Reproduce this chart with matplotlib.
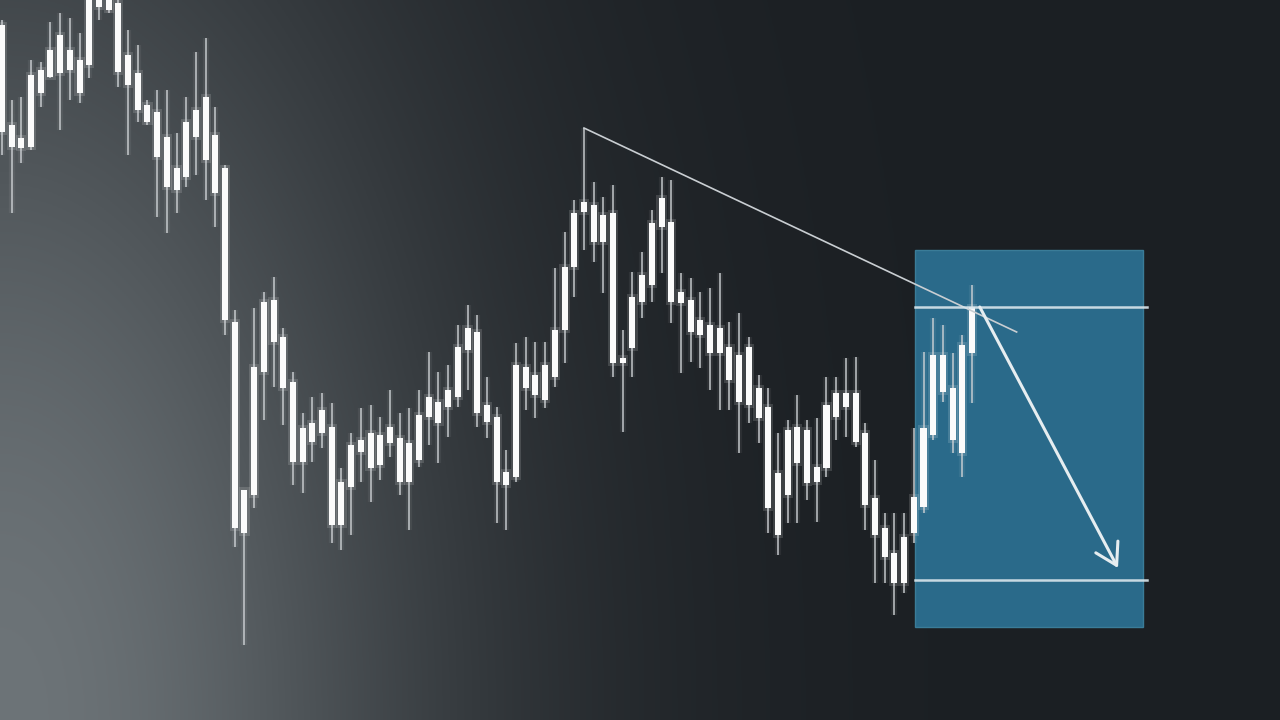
import matplotlib
matplotlib.use("Agg")
import matplotlib.pyplot as plt
import numpy as np
from matplotlib.patches import Rectangle

# candle prices (arbitrary units, higher = up)
opens = [695, 595, 582, 573, 627, 643, 647, 670, 660, 655, 713, 728, 717, 665, 647, 615, 608, 583, 552, 543,
         583, 623, 585, 552, 398, 230, 225, 348, 378, 383, 338, 292, 278, 287, 293, 238, 233, 268, 287, 255,
         277, 282, 277, 260, 303, 318, 313, 323, 370, 388, 315, 303, 248, 243, 332, 345, 320, 343, 390, 453,
         508, 515, 505, 507, 362, 372, 418, 435, 493, 498, 428, 420, 400, 395, 392, 373, 365, 315, 332, 313,
         247, 225, 257, 290, 253, 252, 303, 313, 327, 287, 222, 192, 167, 137, 187, 213, 285, 328, 332, 267,
         367]
highs = [700, 620, 623, 660, 658, 698, 707, 702, 687, 730, 735, 735, 725, 690, 675, 620, 630, 630, 587, 623,
         668, 682, 613, 555, 410, 230, 412, 428, 443, 392, 348, 307, 323, 327, 317, 252, 287, 312, 315, 303,
         330, 307, 312, 330, 368, 348, 355, 395, 415, 405, 343, 313, 270, 377, 383, 378, 378, 452, 488, 520,
         592, 538, 523, 535, 390, 448, 468, 510, 543, 540, 447, 442, 428, 432, 447, 398, 407, 383, 345, 332,
         287, 300, 325, 300, 302, 343, 343, 362, 363, 297, 260, 207, 207, 207, 292, 368, 402, 395, 367, 385,
         435]
lows = [565, 507, 557, 570, 613, 642, 590, 620, 617, 642, 700, 707, 633, 565, 598, 595, 503, 487, 507, 533,
        545, 520, 493, 385, 173, 75, 212, 300, 333, 295, 235, 227, 258, 272, 177, 170, 185, 238, 218, 240,
        263, 225, 190, 253, 275, 257, 283, 313, 330, 293, 282, 197, 190, 238, 310, 302, 312, 333, 357, 423,
        470, 458, 427, 343, 288, 343, 402, 418, 447, 397, 347, 358, 352, 330, 310, 310, 267, 297, 277, 187,
        165, 197, 197, 220, 198, 243, 280, 283, 273, 190, 137, 137, 105, 127, 177, 207, 280, 318, 267, 243,
        317]
closes = [588, 573, 572, 645, 650, 670, 685, 650, 627, 725, 730, 710, 648, 635, 610, 598, 563, 533, 530, 598,
          610, 560, 527, 400, 192, 187, 353, 418, 420, 332, 258, 258, 297, 310, 195, 195, 275, 280, 252, 285,
          293, 238, 238, 305, 323, 297, 330, 373, 392, 307, 298, 238, 235, 355, 353, 325, 355, 390, 453, 507,
          518, 478, 478, 357, 357, 423, 445, 497, 522, 418, 417, 388, 385, 367, 367, 340, 318, 373, 302, 212,
          185, 290, 293, 237, 238, 315, 327, 327, 278, 215, 185, 163, 137, 183, 223, 292, 365, 365, 280, 375,
          413]
target_level = 140
trend_end = (104.6, 388)

opens, highs, lows, closes = map(np.array, (opens, highs, lows, closes))
idx = np.arange(len(opens))

fig = plt.figure(figsize=(12.8, 7.2), dpi=100)
ax = fig.add_axes([0, 0, 1, 1])
x0, x1 = -0.2, 131.75
ax.set_xlim(x0, x1)
ax.set_ylim(0, 720)
ax.axis("off")

# background: dark with a soft light glow from the lower left corner
H, W = 360, 640
yy, xx = np.mgrid[0:H, 0:W]
px = xx * 1280 / W
py = yy * 720 / H          # from top
g = np.exp(-((px / 440.0) ** 2 + ((720 - py) / 850.0) ** 2))
dark = np.array([27, 31, 35]) / 255.0
light = np.array([82, 85, 85]) / 255.0
img = dark[None, None, :] + g[..., None] * light[None, None, :]
ax.imshow(np.clip(img, 0, 1), extent=[x0, x1, 0, 720], origin="upper", aspect="auto", zorder=0)

# trade box
bx0, bx1 = 94.12, 117.63
ax.add_patch(Rectangle((bx0, 93), bx1 - bx0, 470 - 93, facecolor="#2a6a8a",
                       edgecolor="#3a7c98", lw=1, zorder=1))

# candles
body_lo = np.minimum(opens, closes)
body_h = np.maximum(np.abs(closes - opens), 4)
ax.vlines(idx, lows, highs, color="#ffffff", lw=4.5, alpha=0.06, zorder=2)
ax.bar(idx, body_h + 6, bottom=body_lo - 3, width=1.05, color="white", alpha=0.14, zorder=2)
ax.vlines(idx, lows, highs, color="#cfd3d6", lw=1.2, alpha=0.85, zorder=3)
ax.bar(idx, body_h, bottom=body_lo, width=0.62, color="#fbfbfb", zorder=4)

# trend line from the swing high
ti = 60
ax.plot([ti, trend_end[0]], [highs[ti], trend_end[1]], color="#c9ced2", lw=1.2, zorder=5)

# entry and target levels
ax.plot([bx0, 118.04], [closes[-1], closes[-1]], color="#d9e6ec", lw=1.8, alpha=0.9, zorder=5)
ax.plot([bx0, 118.04], [target_level, target_level], color="#d9e6ec", lw=1.8, alpha=0.9, zorder=5)

# arrow down to target
ax.annotate("", xy=(115.05, target_level + 12), xytext=(idx[-1] + 0.8, closes[-1]),
            arrowprops=dict(arrowstyle="->,head_length=0.75,head_width=0.45", color="#e6edf0",
                            lw=2.2, shrinkA=0, shrinkB=0, mutation_scale=20),
            zorder=6)

fig.savefig("out.png", dpi=100)
